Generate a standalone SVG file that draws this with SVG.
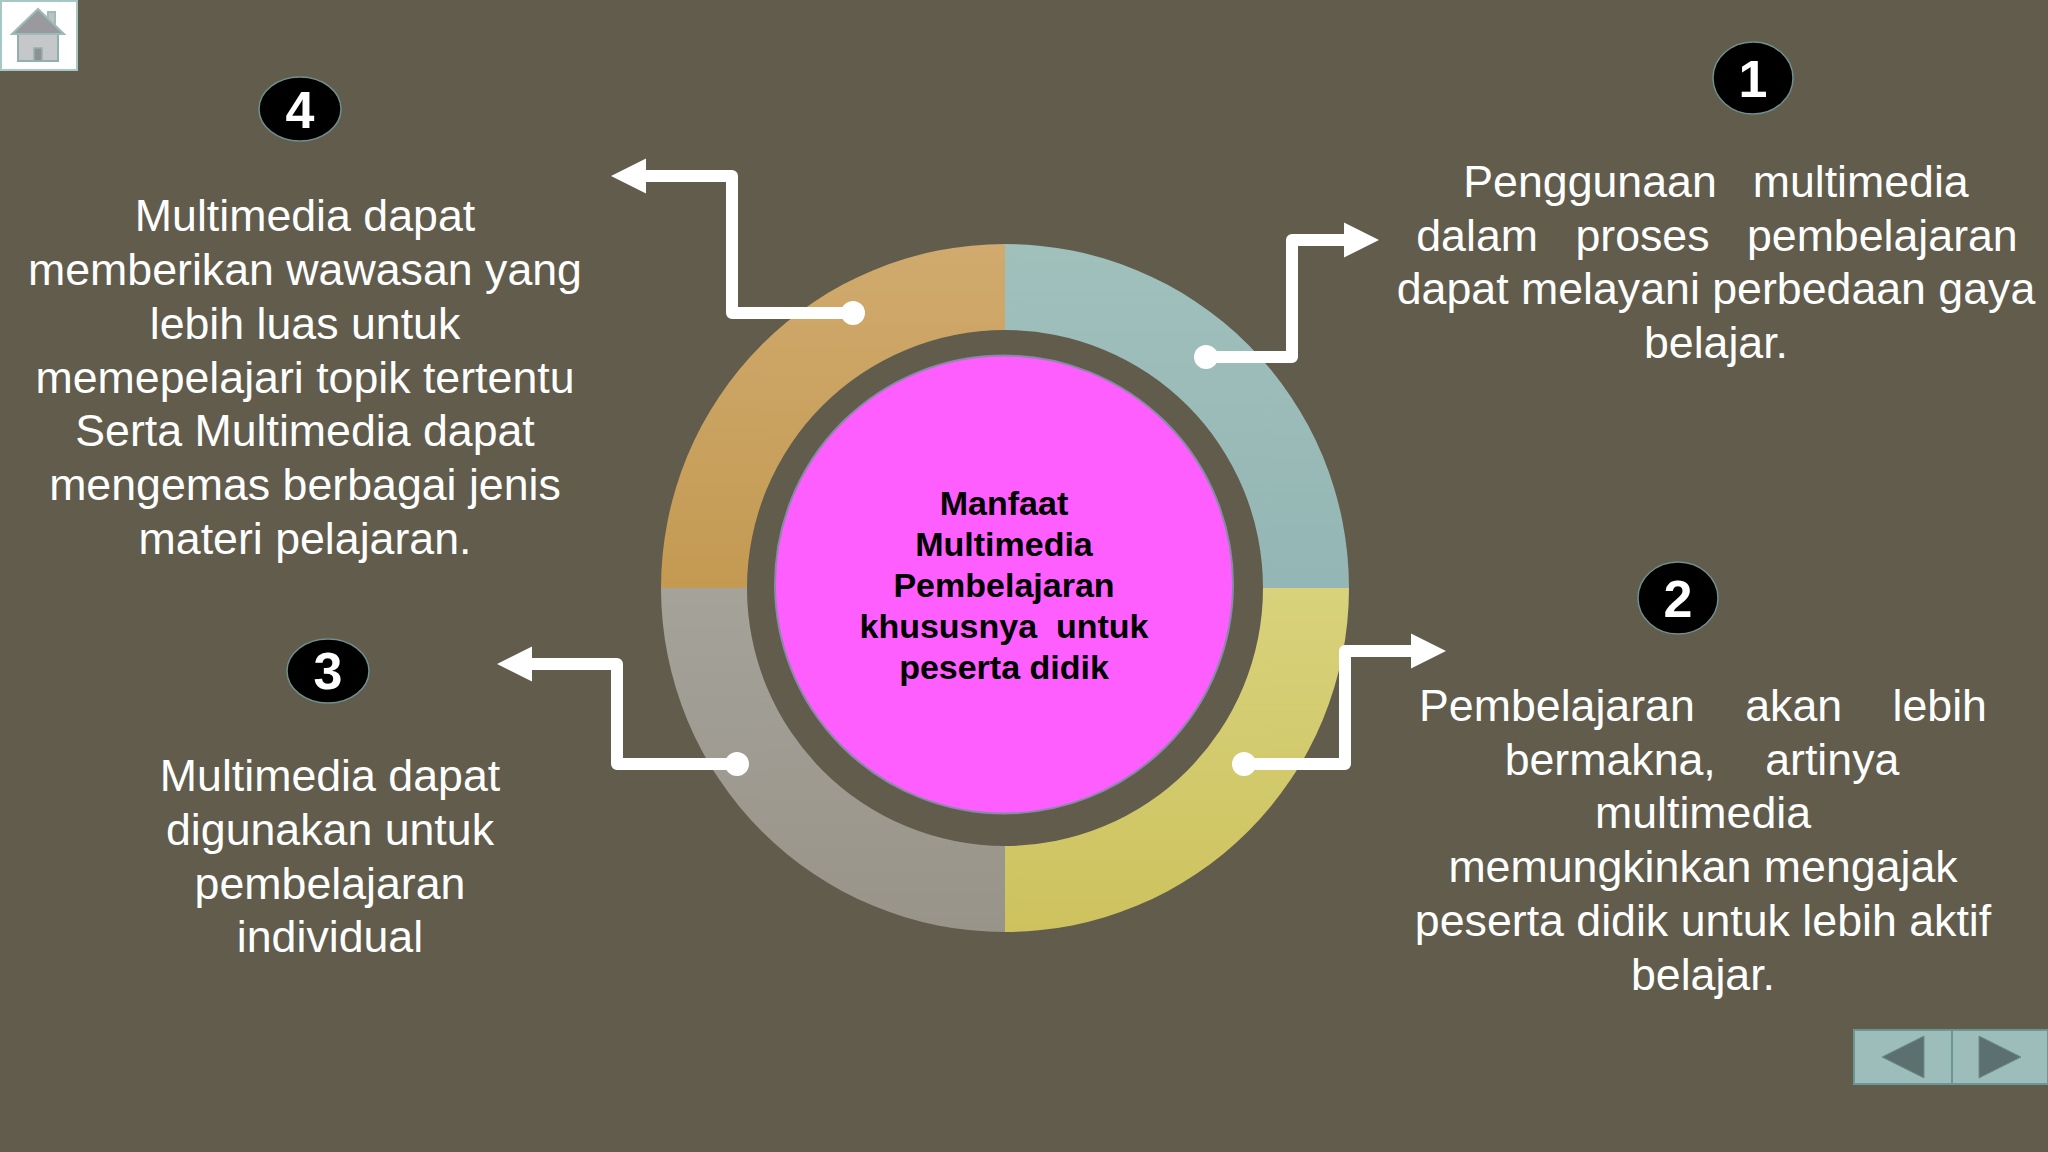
<svg xmlns="http://www.w3.org/2000/svg" width="2048" height="1152" viewBox="0 0 2048 1152">
<style>
.t{font-family:"Liberation Sans",Arial,sans-serif;font-size:44.7px;fill:#fff;text-anchor:middle}
.c{font-family:"Liberation Sans",Arial,sans-serif;font-size:34px;font-weight:bold;fill:#000;text-anchor:middle}
.n{font-family:"Liberation Sans",Arial,sans-serif;font-size:52px;font-weight:bold;fill:#fff;text-anchor:middle}
.b{fill:#000;stroke:#6f8f8c;stroke-width:1.5}
.l{fill:none;stroke:#fff;stroke-width:12;stroke-linejoin:round}
.a{fill:#fff}
</style>
<defs>
<linearGradient id="g1" x1="0" y1="0" x2="0" y2="1"><stop offset="0" stop-color="#a0c0bc"/><stop offset="1" stop-color="#94b6b4"/></linearGradient>
<linearGradient id="g2" x1="0" y1="0" x2="0" y2="1"><stop offset="0" stop-color="#d8d27c"/><stop offset="1" stop-color="#cdc25e"/></linearGradient>
<linearGradient id="g3" x1="0" y1="0" x2="0" y2="1"><stop offset="0" stop-color="#a5a299"/><stop offset="1" stop-color="#98948a"/></linearGradient>
<linearGradient id="g4" x1="0" y1="0" x2="0" y2="1"><stop offset="0" stop-color="#d0aa6e"/><stop offset="1" stop-color="#c49a52"/></linearGradient>
</defs>
<rect width="2048" height="1152" fill="#615c4c"/>
<g id="ring">
<path fill="url(#g1)" d="M1005 244A344 344 0 0 1 1349 588H1263A258 258 0 0 0 1005 330Z"/>
<path fill="url(#g2)" d="M1349 588A344 344 0 0 1 1005 932V846A258 258 0 0 0 1263 588Z"/>
<path fill="url(#g3)" d="M1005 932A344 344 0 0 1 661 588H747A258 258 0 0 0 1005 846Z"/>
<path fill="url(#g4)" d="M661 588A344 344 0 0 1 1005 244V330A258 258 0 0 0 747 588Z"/>
</g>
<g id="center">
<circle cx="1004" cy="584.500" r="229" fill="#ff5eff" stroke="#8a8aa8" stroke-width="2"/>
<text class="c"><tspan x="1004" y="515">Manfaat</tspan><tspan x="1004" y="556">Multimedia</tspan><tspan x="1004" y="597">Pembelajaran</tspan><tspan x="1004" y="638" xml:space="preserve">khususnya  untuk</tspan><tspan x="1004" y="679">peserta didik</tspan></text>
</g>
<g id="connectors">
<path class="l" d="M1206 357H1292V240H1350"/><path class="a" d="M1344 222.500L1379 240L1344 257.500Z"/><circle class="a" cx="1206" cy="357" r="12"/>
<path class="l" d="M1244 764H1345V651H1415"/><path class="a" d="M1411 633.500L1446 651L1411 668.500Z"/><circle class="a" cx="1244" cy="764" r="12"/>
<path class="l" d="M737 764H617V664H528"/><path class="a" d="M532 646.500L497 664L532 681.500Z"/><circle class="a" cx="737" cy="764" r="12"/>
<path class="l" d="M853 313H732V176H642"/><path class="a" d="M646 158.500L611 176L646 193.500Z"/><circle class="a" cx="853" cy="313" r="12"/>
</g>
<g id="node1">
<ellipse class="b" cx="1753" cy="78" rx="40" ry="36"/><text class="n" x="1753" y="97">1</text>
<text class="t"><tspan x="1716" y="197" word-spacing="23.5">Penggunaan multimedia</tspan><tspan x="1717" y="251" word-spacing="25">dalam proses pembelajaran</tspan><tspan x="1716" y="304">dapat melayani perbedaan gaya</tspan><tspan x="1716" y="358">belajar.</tspan></text>
</g>
<g id="node2">
<ellipse class="b" cx="1678" cy="598" rx="40" ry="36"/><text class="n" x="1678" y="617">2</text>
<text class="t"><tspan x="1703" y="721" word-spacing="38">Pembelajaran akan lebih</tspan><tspan x="1702" y="775" word-spacing="37">bermakna, artinya</tspan><tspan x="1703" y="828">multimedia</tspan><tspan x="1703" y="882">memungkinkan mengajak</tspan><tspan x="1703" y="936">peserta didik untuk lebih aktif</tspan><tspan x="1703" y="990">belajar.</tspan></text>
</g>
<g id="node3">
<ellipse class="b" cx="328" cy="671" rx="41" ry="32"/><text class="n" x="328" y="689">3</text>
<text class="t"><tspan x="330" y="791">Multimedia dapat</tspan><tspan x="330" y="845">digunakan untuk</tspan><tspan x="330" y="899">pembelajaran</tspan><tspan x="330" y="952">individual</tspan></text>
</g>
<g id="node4">
<ellipse class="b" cx="300" cy="109" rx="41" ry="32"/><text class="n" x="300" y="128">4</text>
<text class="t"><tspan x="305" y="231">Multimedia dapat</tspan><tspan x="305" y="285">memberikan wawasan yang</tspan><tspan x="305" y="339">lebih luas untuk</tspan><tspan x="305" y="393">memepelajari topik tertentu</tspan><tspan x="305" y="446">Serta Multimedia dapat</tspan><tspan x="305" y="500">mengemas berbagai jenis</tspan><tspan x="305" y="554">materi pelajaran.</tspan></text>
</g>
<g id="home">
<rect x="1" y="1" width="76" height="69" fill="#fff" stroke="#a5c8c4" stroke-width="2"/>
<rect x="48" y="12" width="7" height="16" fill="#c0c2c2" stroke="#9bbcb8" stroke-width="2"/>
<rect x="18" y="34" width="40" height="27" fill="#c5c7c8" stroke="#8fb0ac" stroke-width="2"/>
<path d="M12 34L38 9L64 34Z" fill="#9a9a9e" stroke="#9bbcb8" stroke-width="2"/>
<rect x="34" y="48" width="8" height="13" fill="#8f9090" stroke="#93b4b0" stroke-width="1.500"/>
</g>
<g id="nav">
<rect x="1854" y="1030" width="194" height="54" fill="#9dbdbb" stroke="#6d9690" stroke-width="2"/>
<path d="M1952 1030V1084" stroke="#6d9690" stroke-width="2"/>
<path d="M1882 1057L1924 1036V1078Z" fill="#5c716f" stroke="#6d8c88" stroke-width="1"/>
<path d="M1979 1036L2021 1057L1979 1078Z" fill="#5c716f" stroke="#6d8c88" stroke-width="1"/>
</g>
</svg>
